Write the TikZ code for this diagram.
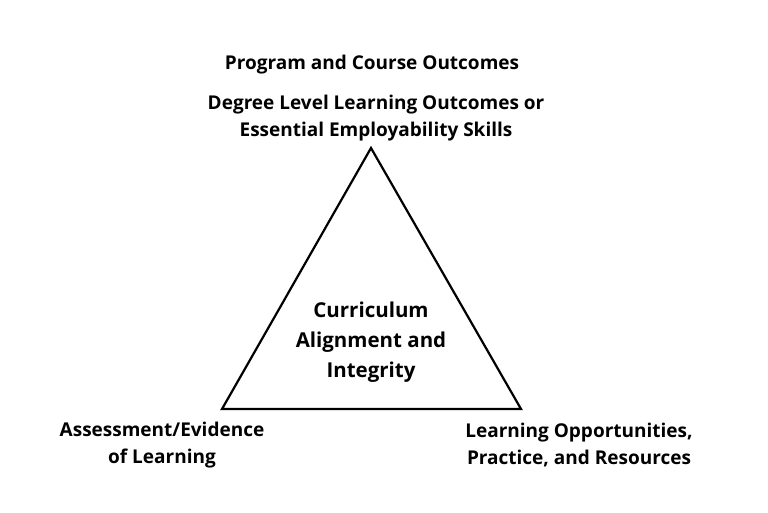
\documentclass[tikz,border=0pt]{standalone}
\usepackage{fontspec}
\setmainfont{Open Sans}[BoldFont={Open Sans Bold}]
\usetikzlibrary{positioning}
\tikzset{label text/.style={align=center,font=\fontsize{19}{27}\selectfont\bfseries,inner sep=0pt},
         big text/.style={label text,font=\fontsize{20.5}{30}\selectfont\bfseries},
         side/.style={draw=black,line width=2.2pt,line join=miter},
}

\begin{document}
\begin{tikzpicture}[x=1pt,y=-1pt]
\useasboundingbox[fill=white] (0,0) rectangle (768,512);
% corners of the triangle
\coordinate (top) at (371,148);
\coordinate (left) at (222,409);
\coordinate (right) at (521,409);
\draw[side] (top) -- (left) -- (right) -- cycle;

\node[label text] (program) at (372,65) {Program and Course Outcomes};
\node[label text] (degree) at (376,118) {Degree Level Learning Outcomes or\\Essential Employability Skills};
\node[big text] (center) at (371,342) {Curriculum\\Alignment and\\Integrity};
\node[label text] (assess) at (162,445) {Assessment/Evidence\\of Learning};
\node[label text] (learn) at (579,445) {Learning Opportunities,\\Practice, and Resources};
\end{tikzpicture}
\end{document}
